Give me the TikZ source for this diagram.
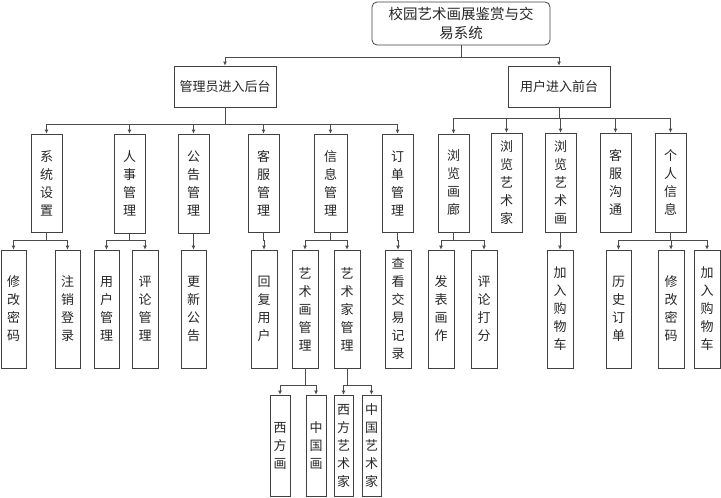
\documentclass[tikz,border=0pt]{standalone}
\usepackage{fontspec}
\setmainfont{Noto Sans CJK SC}
\usetikzlibrary{arrows.meta,calc}
\newcommand{\bx}[6]{\node[box,minimum width={(#4-#2)*1pt},minimum height={(#5-#3)*1pt}] (#1) at ({(#2+#4)/2},{(#3+#5)/2}) {#6};}
\begin{document}
\begin{tikzpicture}[x=1pt,y=-1pt,
 box/.style={draw=black!75,line width=0.8pt,inner sep=0pt,align=center,font=\fontsize{13}{18}\selectfont,text=black!85},
 arr/.style={draw=black!70,line width=0.8pt,-{Latex[length=4pt,width=4pt]}}]
\useasboundingbox (0,0) rectangle (721,498);
\node[box,rounded corners=5pt,minimum width=178pt,minimum height=43pt,font=\fontsize{14.5}{19}\selectfont] (root) at (461,23.5) {校园艺术画展鉴赏与交\\易系统};
\bx{adm}{174}{66}{276}{107}{管理员进入后台}
\bx{usr}{508}{66}{610}{107}{用户进入前台}
\coordinate (b0) at (0,57);
\coordinate (b1) at (0,124);
\coordinate (b2) at (0,118);
\coordinate (b3) at (0,240);
\coordinate (b4) at (0,385);
% level 2 admin
\bx{xt}{31}{134}{62}{232}{系\\统\\设\\置}
\bx{rs}{114}{134}{145}{233}{人\\事\\管\\理}
\bx{gg}{178}{134}{209}{233}{公\\告\\管\\理}
\bx{kf}{248}{134}{279}{232}{客\\服\\管\\理}
\bx{xx}{314}{134}{347}{232}{信\\息\\管\\理}
\bx{dd}{382}{134}{413}{232}{订\\单\\管\\理}
% level 2 user
\bx{hl}{438}{134}{469}{232}{浏\\览\\画\\廊}
\bx{ys}{491}{133}{522}{232}{浏\\览\\艺\\术\\家}
\bx{yh}{545}{133}{576}{232}{浏\\览\\艺\\术\\画}
\bx{gt}{600}{133}{631}{232}{客\\服\\沟\\通}
\bx{gr}{655}{133}{686}{232}{个\\人\\信\\息}
% level 3
\bx{c1}{1}{250}{26}{368}{修\\改\\密\\码}
\bx{c2}{55}{250}{80}{368}{注\\销\\登\\录}
\bx{c3}{94}{250}{119}{368}{用\\户\\管\\理}
\bx{c4}{132}{250}{158}{368}{评\\论\\管\\理}
\bx{c5}{181}{250}{206}{368}{更\\新\\公\\告}
\bx{c6}{251}{250}{277}{368}{回\\复\\用\\户}
\bx{c7}{292}{250}{318}{368}{艺\\术\\画\\管\\理}
\bx{c8}{334}{250}{360}{368}{艺\\术\\家\\管\\理}
\bx{c9}{385}{250}{411}{368}{查\\看\\交\\易\\记\\录}
\bx{d1}{428}{250}{454}{368}{发\\表\\画\\作}
\bx{d2}{471}{250}{497}{368}{评\\论\\打\\分}
\bx{d3}{547}{250}{573}{368}{加\\入\\购\\物\\车}
\bx{d4}{606}{250}{631}{368}{历\\史\\订\\单}
\bx{d5}{658}{250}{684}{368}{修\\改\\密\\码}
\bx{d6}{694}{250}{720}{368}{加\\入\\购\\物\\车}
% level 4
\bx{e1}{270}{395}{290}{496}{西\\方\\画}
\bx{e2}{306}{395}{326}{496}{中\\国\\画}
\bx{e3}{334}{395}{353}{496}{西\\方\\艺\\术\\家}
\bx{e4}{362}{395}{381}{496}{中\\国\\艺\\术\\家}
% connectors
\foreach \c in {adm,usr} \draw[arr] (root.south) -- (root.south |- b0) -| (\c.north);
\foreach \c in {xt,rs,gg,kf,xx,dd} \draw[arr] (adm.south) -- (adm.south |- b1) -| (\c.north);
\foreach \c in {hl,ys,yh,gt,gr} \draw[arr] (usr.south) -- (usr.south |- b2) -| (\c.north);
\foreach \p/\c in {xt/c1,xt/c2,rs/c3,rs/c4,gg/c5,kf/c6,xx/c7,xx/c8,dd/c9,hl/d1,hl/d2,yh/d3,gr/d4,gr/d5,gr/d6}
  \draw[arr] (\p.south) -- (\p.south |- b3) -| (\c.north);
\foreach \p/\c in {c7/e1,c7/e2,c8/e3,c8/e4}
  \draw[arr] (\p.south) -- (\p.south |- b4) -| (\c.north);
\end{tikzpicture}
\end{document}
